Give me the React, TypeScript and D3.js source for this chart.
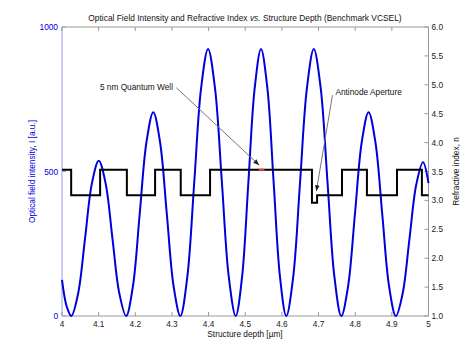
import React from "react";
import * as d3 from "d3";

// Optical field intensity |E|^2
const depthI: number[] = [
  4.0, 4.0128, 4.0255,
  4.0442, 4.0629, 4.0816, 4.1003, 4.119, 4.1376, 4.1563, 4.175,
  4.1935, 4.212, 4.2305, 4.249, 4.2675, 4.286, 4.3045, 4.323,
  4.3419, 4.3608, 4.3796, 4.3985, 4.4174, 4.4363, 4.4551, 4.474,
  4.4913, 4.5085, 4.5258, 4.543, 4.5603, 4.5775, 4.5948, 4.612,
  4.6308, 4.6495, 4.6683, 4.687, 4.7058, 4.7245, 4.7433, 4.762,
  4.7806, 4.7993, 4.8179, 4.8365, 4.8551, 4.8738, 4.8924, 4.911,
  4.9295, 4.948, 4.9665, 4.985, 5.0,
];
const intensity: number[] = [
  125, 33, 0,
  79, 269, 459, 537, 459, 269, 79, 0,
  103, 353, 602, 705, 602, 353, 103, 0,
  135, 462, 789, 924, 789, 462, 135, 0,
  135, 462, 789, 924, 789, 462, 135, 0,
  135, 462, 789, 924, 789, 462, 135, 0,
  103, 353, 602, 705, 602, 353, 103, 0,
  78, 266, 454, 532, 460,
];

// Refractive index profile (step boundaries and values)
const depthN: number[] = [4.0, 4.025, 4.104, 4.177, 4.254, 4.324, 4.404, 4.682, 4.696, 4.764, 4.832, 4.914, 4.982, 5.0];
const refIndex: number[] = [3.53, 3.09, 3.53, 3.09, 3.53, 3.09, 3.53, 2.96, 3.09, 3.53, 3.09, 3.53, 3.09, 3.09];

// Quantum well
const qwDepth: number[] = [4.537, 4.552];
const qwIndex = 3.53;

const xTicks: number[] = [4, 4.1, 4.2, 4.3, 4.4, 4.5, 4.6, 4.7, 4.8, 4.9, 5];
const xTickLabels: string[] = ["4", "4.1", "4.2", "4.3", "4.4", "4.5", "4.6", "4.7", "4.8", "4.9", "5"];
const leftTicks: number[] = [0, 500, 1000];
const rightTicks: number[] = [1, 1.5, 2, 2.5, 3, 3.5, 4, 4.5, 5, 5.5, 6];

const W = 474, H = 355;
const L = 62, R = 428.5, T = 27, B = 316;
const FONT = "'Liberation Sans', Arial, sans-serif";
const BLUE = "#0000dd";
const FS = 8.3;

export default function App() {
  const x = d3.scaleLinear().domain([4, 5]).range([L, R]);
  const yI = d3.scaleLinear().domain([0, 1000]).range([B, T]);
  const yN = d3.scaleLinear().domain([1, 6]).range([B, T]);

  const iLine = d3.line<number>()
    .x((_, i) => x(depthI[i]))
    .y((d) => yI(d))
    .curve(d3.curveCatmullRom.alpha(0.5))(intensity) as string;

  const nLine = d3.line<number>()
    .x((_, i) => x(depthN[i]))
    .y((d) => yN(d))
    .curve(d3.curveStepAfter)(refIndex) as string;

  const qwLine = d3.line<number>()
    .x((d) => x(d))
    .y(() => yN(qwIndex))(qwDepth) as string;

  const ann = {
    qw: { text: "5 nm Quantum Well", tx: 4.303, tn: 4.91, x1: 4.312, n1: 4.95, x2: 4.538, n2: 3.61 },
    an: { text: "Antinode Aperture", tx: 4.746, tn: 4.82, x1: 4.738, n1: 4.82, x2: 4.694, n2: 3.16 },
  };

  return (
    <svg width={W} height={H} style={{ position: "absolute", left: 0, top: 0, background: "#fff" }}
      fontFamily={FONT}>
      <defs>
        <marker id="arr" viewBox="0 0 10 10" refX="10" refY="5" markerWidth="6" markerHeight="6" orient="auto">
          <path d="M0,1 L10,5 L0,9 z" fill="#222" />
        </marker>
      </defs>
      <rect x={0} y={0} width={W} height={H} fill="#fff" />
      {/* frame */}
      <line x1={L} x2={R} y1={T} y2={T} stroke="#999" strokeWidth={1} />
      <line x1={L} x2={R} y1={B} y2={B} stroke="#999" strokeWidth={1} />
      <line x1={R} x2={R} y1={T} y2={B} stroke="#999" strokeWidth={1} />
      <line x1={L} x2={L} y1={T} y2={B} stroke="#9a9aee" strokeWidth={1} />

      {/* x ticks */}
      {xTicks.map((t, i) => (
        <g key={"x" + i}>
          <line x1={x(t)} x2={x(t)} y1={B} y2={B - 4} stroke="#999" />
          <line x1={x(t)} x2={x(t)} y1={T} y2={T + 4} stroke="#999" />
          <text x={x(t)} y={B + 11} fontSize={FS} textAnchor="middle" fill="#222">{xTickLabels[i]}</text>
        </g>
      ))}
      {/* left ticks */}
      {leftTicks.map((t, i) => (
        <g key={"l" + i}>
          <line x1={L} x2={L + 4} y1={yI(t)} y2={yI(t)} stroke="#9a9aee" />
          <text x={L - 4} y={yI(t) + 3} fontSize={FS} textAnchor="end" fill={BLUE}>{t}</text>
        </g>
      ))}
      {/* right ticks */}
      {rightTicks.map((t, i) => (
        <g key={"r" + i}>
          <line x1={R} x2={R - 4} y1={yN(t)} y2={yN(t)} stroke="#999" />
          <text x={R + 3} y={yN(t) + 3} fontSize={FS} textAnchor="start" fill="#222">{t.toFixed(1)}</text>
        </g>
      ))}

      {/* data */}
      <path d={iLine} fill="none" stroke={BLUE} strokeWidth={2} />
      <path d={nLine} fill="none" stroke="#000" strokeWidth={2} />
      <path d={qwLine} fill="none" stroke="#ff3030" strokeWidth={2} />

      {/* annotations */}
      <text x={x(ann.qw.tx)} y={yN(ann.qw.tn)} fontSize={FS} textAnchor="end" fill="#111">{ann.qw.text}</text>
      <line x1={x(ann.qw.x1)} y1={yN(ann.qw.n1)} x2={x(ann.qw.x2)} y2={yN(ann.qw.n2)} stroke="#777" strokeWidth={1} markerEnd="url(#arr)" />
      <text x={x(ann.an.tx)} y={yN(ann.an.tn)} fontSize={FS} textAnchor="start" fill="#111">{ann.an.text}</text>
      <line x1={x(ann.an.x1)} y1={yN(ann.an.n1)} x2={x(ann.an.x2)} y2={yN(ann.an.n2)} stroke="#777" strokeWidth={1} markerEnd="url(#arr)" />

      {/* titles */}
      <text x={245} y={21} fontSize={8.4} textAnchor="middle" fill="#111">
        Optical Field Intensity and Refractive Index <tspan fontStyle="italic">vs.</tspan> Structure Depth (Benchmark VCSEL)
      </text>
      <text x={245} y={337} fontSize={FS} textAnchor="middle" fill="#111">Structure depth [µm]</text>
      <text transform={`translate(35,${(T + B) / 2}) rotate(-90)`} fontSize={FS} textAnchor="middle" fill={BLUE}>
        Optical field intensity, I [a.u.]
      </text>
      <text transform={`translate(459,${(T + B) / 2}) rotate(-90)`} fontSize={FS} textAnchor="middle" fill="#111">
        Refractive index, n
      </text>
    </svg>
  );
}
